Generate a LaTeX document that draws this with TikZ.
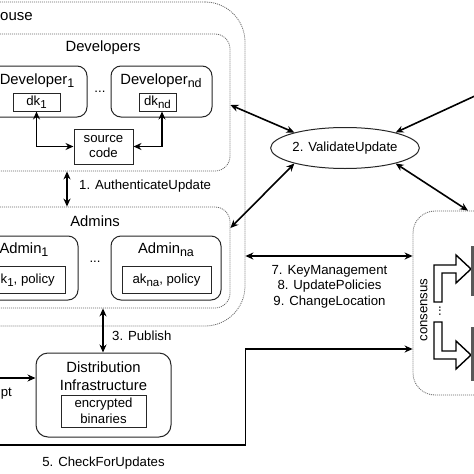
\documentclass[tikz,border=0pt]{standalone}
\usepackage{fontspec}
\setmainfont{Liberation Sans}
\usetikzlibrary{arrows.meta,shapes.geometric,calc}
\newcommand\mysubs[2]{\raisebox{-0.4ex}{\fontsize{#1}{#1}\selectfont #2}}
\begin{document}
\begin{tikzpicture}[x=1pt,y=-1pt,
  dotbox/.style={draw=black!60, dash pattern=on 1pt off 1pt, line width=0.8pt, rectangle, inner sep=0pt},
  solidbox/.style={draw=black!85, line width=1pt, rectangle, inner sep=0pt},
  ttl/.style={font=\fontsize{14.8}{18}\selectfont, inner sep=0pt},
  lbl/.style={font=\fontsize{13.2}{15.5}\selectfont, inner sep=0pt},
  arr/.style={line width=1.6pt, {Stealth[length=8pt,width=7pt]}-{Stealth[length=8pt,width=7pt]}},
  arrr/.style={line width=1.6pt, -{Stealth[length=8pt,width=7pt]}},
  bent/.style={draw=black, line width=1.4pt, fill=white, line join=miter}
]
\useasboundingbox (0,0) rectangle (474,474);
\clip (0,0) rectangle (474,474);
\fill[white] (0,0) rectangle (474,474);

% containers
\node[dotbox, rounded corners=40pt, minimum width=295pt, minimum height=324pt] (house) at (97.5,164) {};
\node[ttl, font=\fontsize{15}{18}\selectfont, anchor=west] (houset) at (0,17) {ouse};

\node[dotbox, rounded corners=15pt, minimum width=260pt, minimum height=137pt] (devs) at (100,102.5) {};
\node[ttl] (devst) at (103,48) {Developers};

\node[dotbox, rounded corners=15pt, minimum width=271pt, minimum height=101pt] (admins) at (94.5,257.5) {};
\node[ttl] (adminst) at (95,221) {Admins};

\node[dotbox, rounded corners=22pt, minimum width=117pt, minimum height=184pt] (cons) at (471.5,303) {};
\node[lbl, rotate=90] (const) at (424,310) {consensus};

% developers
\node[solidbox, rounded corners=10pt, minimum width=101pt, minimum height=51pt] (dev1) at (36.5,91.5) {};
\node[ttl] (dev1t) at (37,81) {Developer\mysubs{12.5}{1}};
\node[solidbox, lbl, minimum width=47pt, minimum height=18pt] (dk1) at (36.5,102) {dk\mysubs{11.5}{1}};

\node[solidbox, rounded corners=10pt, minimum width=101pt, minimum height=51pt] (devnd) at (161.5,91.5) {};
\node[ttl] (devndt) at (161,81) {Developer\mysubs{12.5}{nd}};
\node[solidbox, lbl, minimum width=37pt, minimum height=18pt] (dknd) at (157.5,102) {dk\mysubs{11.5}{nd}};

\node[lbl] (dots1) at (100,92) {...};

\node[solidbox, lbl, align=center, minimum width=59pt, minimum height=35pt] (src) at (103.5,146.5) {source\\code};

\draw[arr] (dk1) |- (src);
\draw[arr] ([xshift=4.5pt]dknd.south) |- (src);

% admins
\node[solidbox, rounded corners=10pt, minimum width=110pt, minimum height=64pt] (adm1) at (23,268) {};
\node[ttl] (adm1t) at (24,250) {Admin\mysubs{12.5}{1}};
\node[solidbox, minimum width=89pt, minimum height=27pt] (ak1) at (20.5,280) {};
\node[lbl, anchor=west] (ak1t) at (0.5,280) {k\mysubs{11.5}{1}, policy};

\node[solidbox, rounded corners=10pt, minimum width=110pt, minimum height=64pt] (admna) at (166,268) {};
\node[ttl] (admnat) at (166,250) {Admin\mysubs{12.5}{na}};
\node[solidbox, lbl, minimum width=89pt, minimum height=27pt] (akna) at (166.5,280) {ak\mysubs{11.5}{na}, policy};

\node[lbl] (dots2) at (95,262) {...};

% step 1
\coordinate (c1) at (67,0);
\draw[arr] (c1 |- devs.south) -- (c1 |- admins.north);
\node[lbl, anchor=west] (l1) at (79,186) {1. AuthenticateUpdate};

% distribution
\node[solidbox, rounded corners=12pt, minimum width=135pt, minimum height=84pt] (dist) at (103.5,395) {};
\node[ttl, align=center] (distt) at (103.5,376) {Distribution\\Infrastructure};
\node[solidbox, lbl, align=center, minimum width=85pt, minimum height=32pt] (bins) at (103.5,411) {encrypted\\binaries};

% step 3
\coordinate (c3) at (103,0);
\draw[arr] (c3 |- admins.south) -- (c3 |- dist.north);
\node[lbl, anchor=west] (l3) at (112,336) {3. Publish};

% arrow from left into distribution
\coordinate (lin) at (-10,378);
\draw[arrr] (lin) -- (lin -| dist.west);
\node[lbl, anchor=east] (l4) at (12,394) {pt};

% step 5
\coordinate (l5s) at (-10,445);
\coordinate (y349) at (0,349);
\draw[arrr] (l5s) -- (house.east |- l5s) |- (cons.west |- y349);
\node[lbl] (l5) at (103.5,463) {5. CheckForUpdates};

% validate
\node[draw=black!85, line width=1pt, ellipse, minimum width=137pt, minimum height=41pt, inner sep=0pt, lbl] (ell) at (345,148) {2. ValidateUpdate};
\coordinate (y105) at (0,105);
\coordinate (y228) at (0,228);
\draw[arr] (ell.163) -- (devs.east |- y105);
\draw[arr] (ell.197) -- (admins.east |- y228);
\coordinate (tr) at (490,89);
\draw[arrr] (tr) -- (ell.17);
\coordinate (x468) at (468,0);
\draw[arr] (ell.-17) -- (x468 |- cons.north);

% steps 7-9
\coordinate (y256) at (0,256);
\draw[arr] (house.east |- y256) -- (cons.west |- y256);
\node[lbl, align=center] (l7) at (329.5,286.5) {7. KeyManagement\\8. UpdatePolicies\\9. ChangeLocation};

% consensus contents
\draw[bent] (434,302) -- (434,265) -- (456,265) -- (456,255) -- (471,269) -- (456,283) -- (456,273) -- (442,273) -- (442,302) -- cycle;
\draw[bent] (434,322) -- (434,359) -- (456,359) -- (456,369) -- (471,355) -- (456,341) -- (456,351) -- (442,351) -- (442,322) -- cycle;
\node[lbl, rotate=90] (vd) at (440,311) {...};
\fill[black!65] (471,246) rectangle (480,296);
\fill[black!65] (471,327) rectangle (480,381);
\end{tikzpicture}
\end{document}
